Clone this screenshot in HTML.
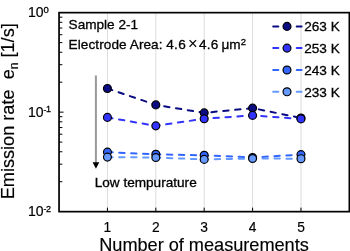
<!DOCTYPE html>
<html><head><meta charset="utf-8"><style>
html,body{margin:0;padding:0;background:#fff;width:350px;height:251px;overflow:hidden}
svg{display:block}
text{font-family:"Liberation Sans",Arial,sans-serif;fill:#000;white-space:pre;stroke:#000;stroke-width:0.3px}
</style></head><body>
<svg width="350" height="251" viewBox="0 0 350 251">
<g stroke="#dcdcdc" stroke-width="1">
<line x1="107.43" y1="12.65" x2="107.43" y2="211.65"/>
<line x1="155.82" y1="12.65" x2="155.82" y2="211.65"/>
<line x1="204.20" y1="12.65" x2="204.20" y2="211.65"/>
<line x1="252.58" y1="12.65" x2="252.58" y2="211.65"/>
<line x1="300.97" y1="12.65" x2="300.97" y2="211.65"/>
</g>
<g stroke="#000" stroke-width="1">
<line x1="107.43" y1="211.65" x2="107.43" y2="207.65"/>
<line x1="155.82" y1="211.65" x2="155.82" y2="207.65"/>
<line x1="204.20" y1="211.65" x2="204.20" y2="207.65"/>
<line x1="252.58" y1="211.65" x2="252.58" y2="207.65"/>
<line x1="300.97" y1="211.65" x2="300.97" y2="207.65"/>
<line x1="59.05" y1="112.15" x2="63.55" y2="112.15"/>
<line x1="59.05" y1="181.70" x2="62.35" y2="181.70"/>
<line x1="59.05" y1="164.18" x2="62.35" y2="164.18"/>
<line x1="59.05" y1="151.75" x2="62.35" y2="151.75"/>
<line x1="59.05" y1="142.10" x2="62.35" y2="142.10"/>
<line x1="59.05" y1="134.22" x2="62.35" y2="134.22"/>
<line x1="59.05" y1="127.56" x2="62.35" y2="127.56"/>
<line x1="59.05" y1="121.79" x2="62.35" y2="121.79"/>
<line x1="59.05" y1="116.70" x2="62.35" y2="116.70"/>
<line x1="59.05" y1="82.20" x2="62.35" y2="82.20"/>
<line x1="59.05" y1="64.68" x2="62.35" y2="64.68"/>
<line x1="59.05" y1="52.25" x2="62.35" y2="52.25"/>
<line x1="59.05" y1="42.60" x2="62.35" y2="42.60"/>
<line x1="59.05" y1="34.72" x2="62.35" y2="34.72"/>
<line x1="59.05" y1="28.06" x2="62.35" y2="28.06"/>
<line x1="59.05" y1="22.29" x2="62.35" y2="22.29"/>
<line x1="59.05" y1="17.20" x2="62.35" y2="17.20"/>
</g>
<rect x="59.05" y="12.65" width="290.30" height="199.00" fill="none" stroke="#000" stroke-width="1.7"/>
<text x="68.6" y="28.8" font-size="13.6">Sample 2-1</text>
<text x="68.6" y="48.7" font-size="13.6" letter-spacing="0.07">Electrode Area:</text>
<text x="166.3" y="48.7" font-size="13.6" letter-spacing="0.25">4.6</text>
<text x="187.9" y="49.2" font-size="16.5" style="stroke:none">×</text>
<text x="198.9" y="48.7" font-size="13.6" letter-spacing="0.25">4.6</text>
<text x="221.5" y="48.7" font-size="13.6">μm</text>
<text x="240.8" y="44.9" font-size="9.5">2</text>
<text x="94.7" y="187.1" font-size="13.6" >Low tempurature</text>
<line x1="95.9" y1="75.5" x2="95.9" y2="163" stroke="#999" stroke-width="2"/>
<path d="M92.6 162.2 L99.3 162.2 L95.95 168.7 Z" fill="#000"/>
<polyline points="107.43,88.45 155.82,104.90 204.20,112.85 252.58,108.10 300.97,118.00" fill="none" stroke="#0b0b82" stroke-width="2.0" stroke-dasharray="5.4 6.55" stroke-dashoffset="0.2" stroke-linecap="round"/>
<circle cx="107.43" cy="88.45" r="3.95" fill="#0b0b82" stroke="#000" stroke-width="1.2"/>
<circle cx="155.82" cy="104.90" r="3.95" fill="#0b0b82" stroke="#000" stroke-width="1.2"/>
<circle cx="204.20" cy="112.85" r="3.95" fill="#0b0b82" stroke="#000" stroke-width="1.2"/>
<circle cx="252.58" cy="108.10" r="3.95" fill="#0b0b82" stroke="#000" stroke-width="1.2"/>
<circle cx="300.97" cy="118.00" r="3.95" fill="#0b0b82" stroke="#000" stroke-width="1.2"/>
<polyline points="107.43,117.40 155.82,125.85 204.20,118.75 252.58,115.40 300.97,118.90" fill="none" stroke="#3333ff" stroke-width="2.0" stroke-dasharray="5.4 6.55" stroke-dashoffset="0.2" stroke-linecap="round"/>
<circle cx="107.43" cy="117.40" r="3.95" fill="#3333ff" stroke="#000" stroke-width="1.2"/>
<circle cx="155.82" cy="125.85" r="3.95" fill="#3333ff" stroke="#000" stroke-width="1.2"/>
<circle cx="204.20" cy="118.75" r="3.95" fill="#3333ff" stroke="#000" stroke-width="1.2"/>
<circle cx="252.58" cy="115.40" r="3.95" fill="#3333ff" stroke="#000" stroke-width="1.2"/>
<circle cx="300.97" cy="118.90" r="3.95" fill="#3333ff" stroke="#000" stroke-width="1.2"/>
<polyline points="107.43,152.10 155.82,154.30 204.20,155.30 252.58,157.50 300.97,154.60" fill="none" stroke="#3366ff" stroke-width="2.0" stroke-dasharray="5.4 6.55" stroke-dashoffset="0.2" stroke-linecap="round"/>
<circle cx="107.43" cy="152.10" r="3.95" fill="#3366ff" stroke="#000" stroke-width="1.2"/>
<circle cx="155.82" cy="154.30" r="3.95" fill="#3366ff" stroke="#000" stroke-width="1.2"/>
<circle cx="204.20" cy="155.30" r="3.95" fill="#3366ff" stroke="#000" stroke-width="1.2"/>
<circle cx="252.58" cy="157.50" r="3.95" fill="#3366ff" stroke="#000" stroke-width="1.2"/>
<circle cx="300.97" cy="154.60" r="3.95" fill="#3366ff" stroke="#000" stroke-width="1.2"/>
<polyline points="107.43,157.10 155.82,157.50 204.20,159.40 252.58,158.50 300.97,158.70" fill="none" stroke="#6699ff" stroke-width="2.0" stroke-dasharray="5.4 6.55" stroke-dashoffset="0.2" stroke-linecap="round"/>
<circle cx="107.43" cy="157.10" r="3.95" fill="#6699ff" stroke="#000" stroke-width="1.2"/>
<circle cx="155.82" cy="157.50" r="3.95" fill="#6699ff" stroke="#000" stroke-width="1.2"/>
<circle cx="204.20" cy="159.40" r="3.95" fill="#6699ff" stroke="#000" stroke-width="1.2"/>
<circle cx="252.58" cy="158.50" r="3.95" fill="#6699ff" stroke="#000" stroke-width="1.2"/>
<circle cx="300.97" cy="158.70" r="3.95" fill="#6699ff" stroke="#000" stroke-width="1.2"/>
<line x1="273.2" y1="26.4" x2="278.3" y2="26.4" stroke="#0b0b82" stroke-width="2.0" stroke-linecap="round"/>
<line x1="296.7" y1="26.4" x2="301.6" y2="26.4" stroke="#0b0b82" stroke-width="2.0" stroke-linecap="round"/>
<circle cx="287" cy="26.4" r="3.95" fill="#0b0b82" stroke="#000" stroke-width="1.2"/>
<text x="304.2" y="31.40" font-size="13.6">263 K</text>
<line x1="273.2" y1="48.1" x2="278.3" y2="48.1" stroke="#3333ff" stroke-width="2.0" stroke-linecap="round"/>
<line x1="296.7" y1="48.1" x2="301.6" y2="48.1" stroke="#3333ff" stroke-width="2.0" stroke-linecap="round"/>
<circle cx="287" cy="48.1" r="3.95" fill="#3333ff" stroke="#000" stroke-width="1.2"/>
<text x="304.2" y="53.10" font-size="13.6">253 K</text>
<line x1="273.2" y1="70.0" x2="278.3" y2="70.0" stroke="#3366ff" stroke-width="2.0" stroke-linecap="round"/>
<line x1="296.7" y1="70.0" x2="301.6" y2="70.0" stroke="#3366ff" stroke-width="2.0" stroke-linecap="round"/>
<circle cx="287" cy="70.0" r="3.95" fill="#3366ff" stroke="#000" stroke-width="1.2"/>
<text x="304.2" y="75.00" font-size="13.6">243 K</text>
<line x1="273.2" y1="91.8" x2="278.3" y2="91.8" stroke="#6699ff" stroke-width="2.0" stroke-linecap="round"/>
<line x1="296.7" y1="91.8" x2="301.6" y2="91.8" stroke="#6699ff" stroke-width="2.0" stroke-linecap="round"/>
<circle cx="287" cy="91.8" r="3.95" fill="#6699ff" stroke="#000" stroke-width="1.2"/>
<text x="304.2" y="96.80" font-size="13.6">233 K</text>
<text x="28" y="17.4" font-size="14" style="stroke-width:0.2px">10</text>
<text x="43.5" y="12.60" font-size="9.5">0</text>
<text x="28" y="116.5" font-size="14" style="stroke-width:0.2px">10</text>
<text x="43.4" y="112.70" font-size="8.5">-</text>
<text x="46.0" y="111.90" font-size="9">1</text>
<text x="28" y="216.1" font-size="14" style="stroke-width:0.2px">10</text>
<text x="43.4" y="212.30" font-size="8.5">-</text>
<text x="46.0" y="211.50" font-size="9">2</text>
<text x="107.43" y="232" text-anchor="middle" font-size="13.8" style="stroke-width:0.15px">1</text>
<text x="155.82" y="232" text-anchor="middle" font-size="13.8" style="stroke-width:0.15px">2</text>
<text x="204.20" y="232" text-anchor="middle" font-size="13.8" style="stroke-width:0.15px">3</text>
<text x="252.58" y="232" text-anchor="middle" font-size="13.8" style="stroke-width:0.15px">4</text>
<text x="300.97" y="232" text-anchor="middle" font-size="13.8" style="stroke-width:0.15px">5</text>
<text x="99.2" y="250.8" font-size="18.2" letter-spacing="-0.03" style="stroke-width:0.15px">Number of measurements</text>
<text transform="translate(13.8,199.3) rotate(-90)" font-size="18.15" style="stroke-width:0.15px">Emission rate  e<tspan font-size="12" dy="4.5">n</tspan><tspan dy="-4.5"> [1/s]</tspan></text>
</svg>
</body></html>
